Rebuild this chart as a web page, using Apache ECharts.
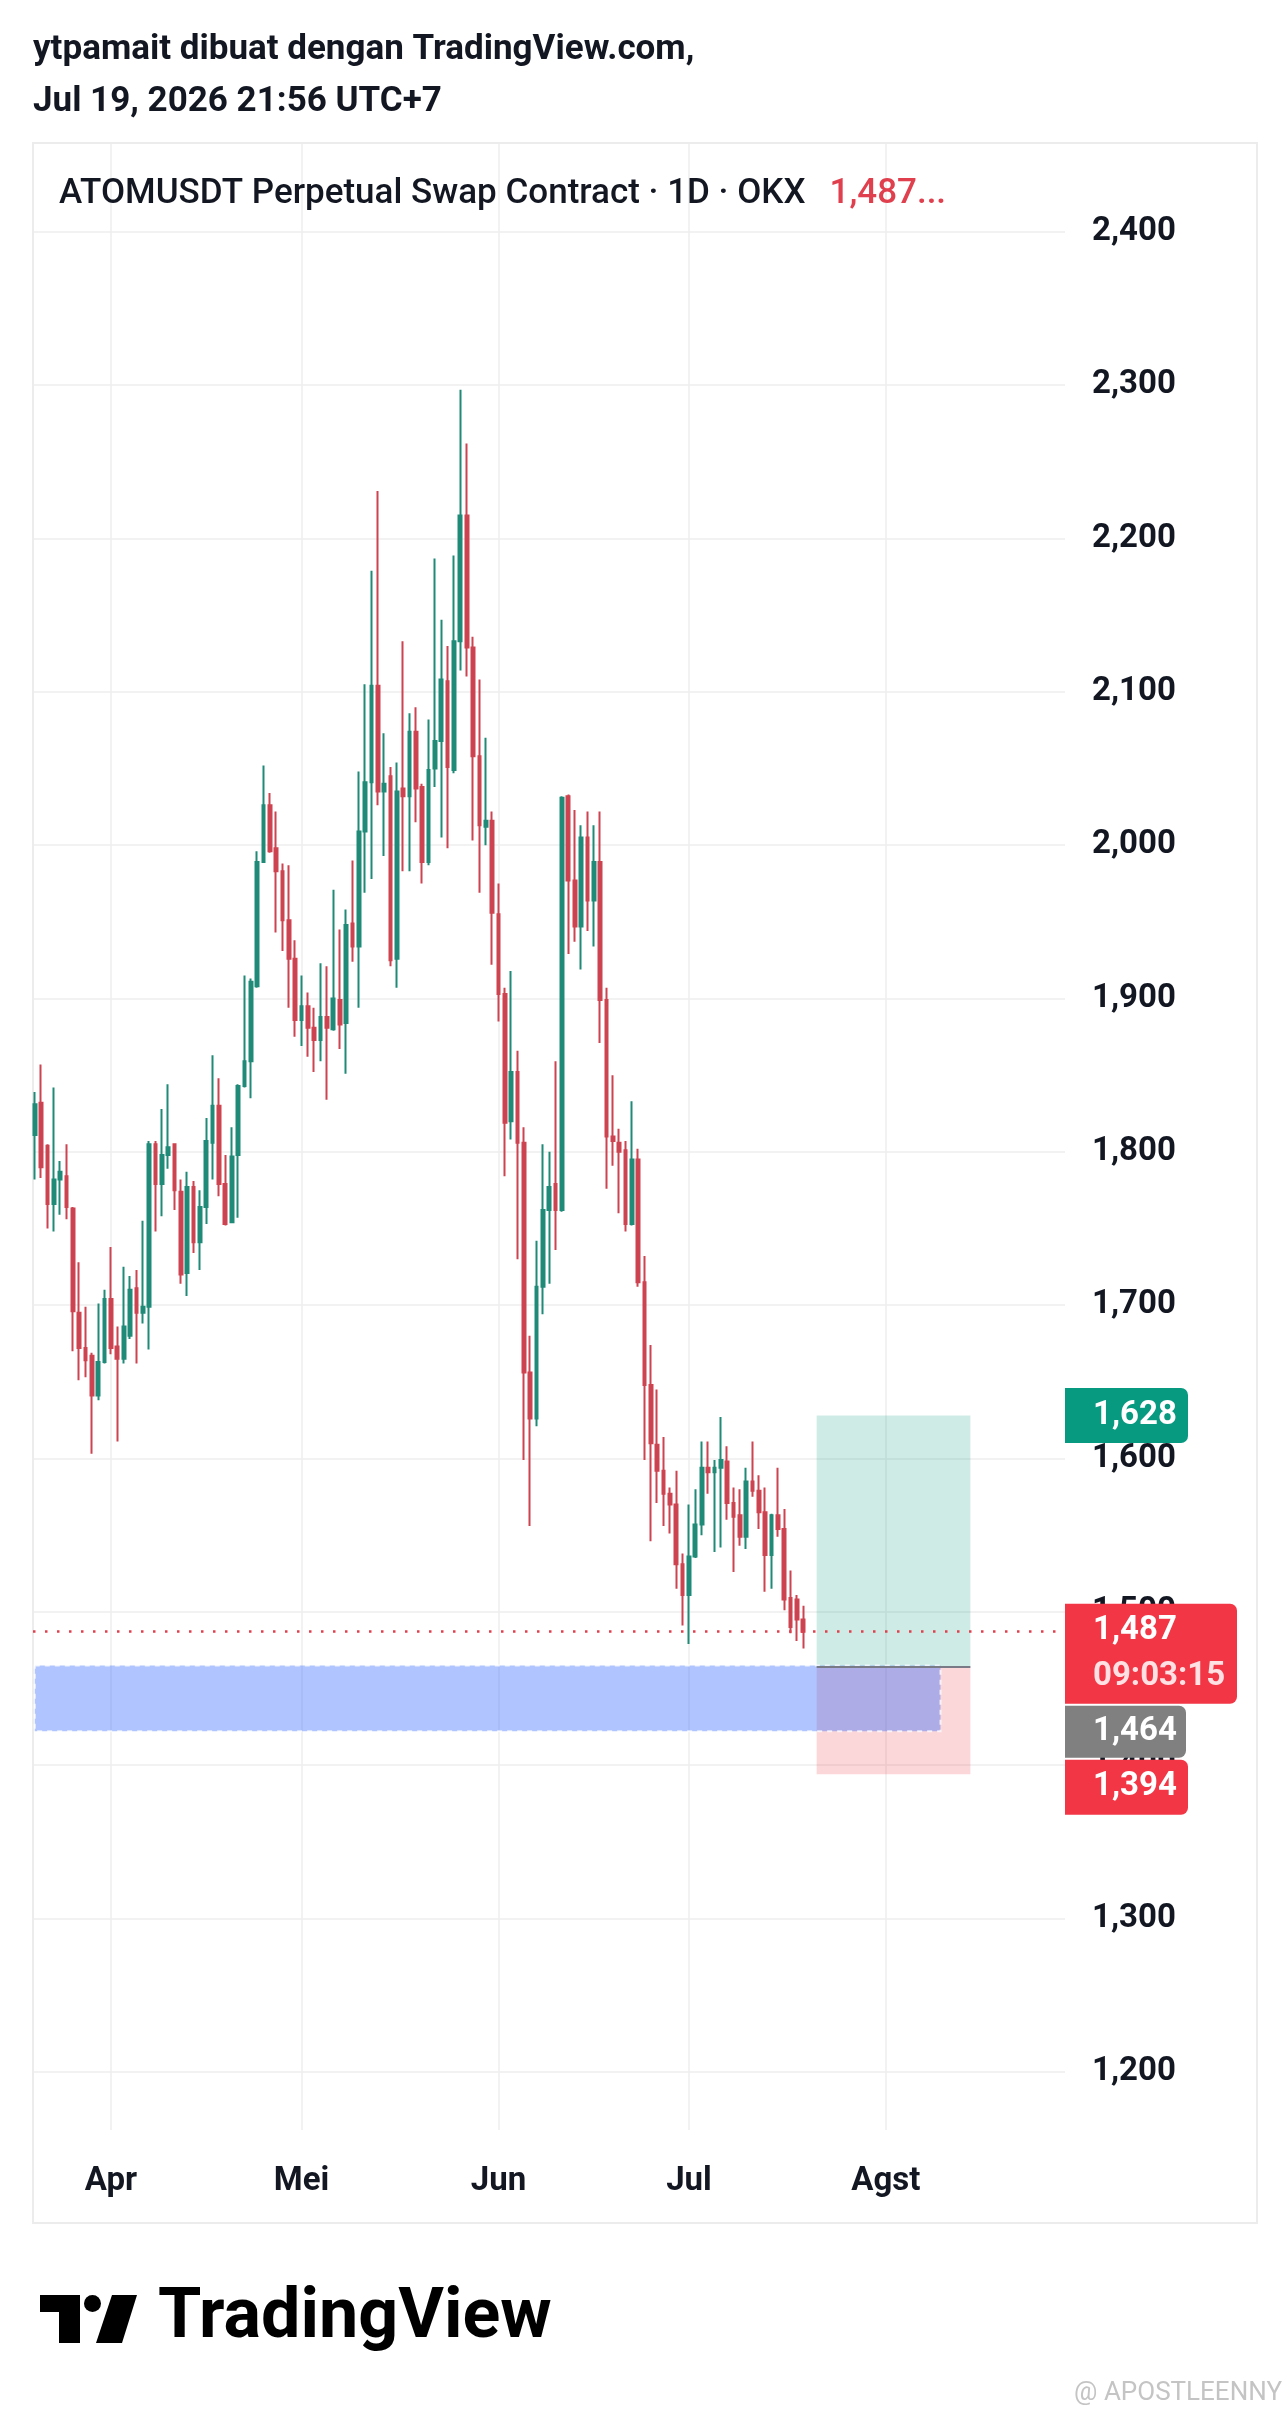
<!DOCTYPE html>
<html><head><meta charset="utf-8">
<script src="https://cdn.jsdelivr.net/npm/echarts@6/dist/echarts.min.js"></script>
<style>html,body{margin:0;padding:0;background:#fff;}#c{width:1284px;height:2418px;}</style>
</head><body><div id="c"></div>
<script>
// Daily candles, ATOMUSDT perp (OKX), 20 Mar .. 19 Jul (x = day index from 20 Mar)
const opens  = [1811,1832,1804,1766,1782,1784,1763,1695,1672,1667,1641,1663,1704,1673,1665,1680,1711,1695,1699,1805,1779,1798,1805,1774,1721,1777,1741,1764,1806,1830,1779,1754,1798,1843,1859,1908,1989,2026,1998,1983,1951,1926,1886,1895,1881,1873,1888,1880,1899,1884,1949,1934,2009,2041,2104,2035,2045,1926,2037,2032,2074,2038,1989,2050,2068,2107,2049,2133,2215,2129,2058,2012,2016,1955,1903,1820,1852,1806,1656,1626,1712,1762,1779,1762,2032,1977,1947,2005,1964,1989,1899,1810,1806,1801,1753,1795,1715,1648,1609,1592,1577,1570,1531,1511,1536,1557,1594,1591,1594,1598,1571,1563,1549,1585,1579,1565,1537,1563,1554,1509,1508,1495];
const closes = [1831,1790,1766,1782,1787,1764,1696,1672,1664,1641,1663,1704,1672,1665,1686,1710,1695,1699,1805,1779,1798,1803,1775,1720,1777,1741,1764,1807,1830,1779,1753,1797,1843,1859,1911,1989,2026,1996,1983,1951,1926,1886,1895,1881,1873,1888,1881,1900,1883,1948,1934,2009,2041,2104,2035,2040,1925,2035,2032,2074,2037,1989,2049,2068,2108,2051,2133,2215,2129,2058,2013,2016,1956,1903,1819,1852,1806,1656,1626,1712,1762,1777,1762,2031,1977,1947,2005,1964,1989,1899,1810,1807,1800,1753,1795,1715,1648,1610,1592,1577,1570,1531,1511,1536,1557,1594,1591,1594,1599,1571,1562,1549,1585,1579,1565,1537,1563,1554,1508,1490,1495,1487];
const lows   = [1782,1783,1750,1748,1759,1756,1670,1651,1653,1603,1638,1662,1668,1611,1662,1678,1662,1688,1671,1748,1758,1789,1762,1714,1706,1734,1723,1753,1782,1771,1752,1754,1757,1842,1835,1907,1989,1995,1943,1931,1894,1875,1869,1862,1852,1859,1834,1879,1867,1851,1924,1894,1969,1978,2026,1993,1921,1907,1983,1983,2015,1975,1987,2038,2005,1998,2047,2114,2110,2003,1969,2000,1922,1885,1784,1808,1730,1599,1556,1621,1694,1714,1736,1761,1929,1937,1919,1944,1934,1871,1776,1791,1760,1748,1752,1712,1599,1546,1571,1556,1551,1515,1491,1479,1535,1550,1577,1539,1542,1560,1526,1543,1541,1575,1554,1513,1515,1549,1501,1486,1481,1476];
const highs  = [1839,1857,1805,1842,1794,1805,1764,1728,1699,1669,1701,1710,1738,1686,1725,1719,1723,1755,1807,1807,1828,1844,1805,1782,1787,1781,1775,1822,1863,1848,1798,1816,1844,1915,1913,1996,2052,2034,2022,1988,1987,1938,1915,1904,1894,1923,1921,1971,1945,1958,1990,2048,2105,2179,2231,2073,2051,2054,2133,2086,2090,2040,2082,2187,2147,2130,2189,2297,2262,2136,2108,2070,2022,1975,1907,1918,1866,1816,1680,1742,1805,1800,1859,2032,2033,2023,2013,2022,2013,2022,1907,1850,1815,1807,1833,1802,1732,1674,1645,1614,1581,1592,1538,1570,1580,1611,1611,1599,1627,1608,1581,1580,1594,1611,1589,1581,1564,1594,1567,1527,1511,1504];

const monthTicks  = [12, 42, 73, 103, 134];           // day index of 1 Apr, 1 Mei, 1 Jun, 1 Jul, 1 Agst
const monthLabels = ['Apr', 'Mei', 'Jun', 'Jul', 'Agst'];
const priceTicks  = [1200,1300,1400,1500,1600,1700,1800,1900,2000,2100,2200,2300,2400];

const lastPrice = 1487;
const countdown = '09:03:15';
const position = { start: 123.1, end: 147.3, entry: 1464, target: 1628, stop: 1394 };
const zone = { end: 142.6, top: 1465, bottom: 1422 };

const UP = '#208A79', DOWN = '#CD4350';
const FONT = 'Roboto, "Noto Sans", sans-serif';
const fmt = v => String(v).replace(/\B(?=(\d{3})+(?!\d))/g, ',');

const chart = echarts.init(document.getElementById('c'), null, { width: 1284, height: 2418 });
const candleData = opens.map((o, i) => [i, o, closes[i], lows[i], highs[i]]);

chart.setOption({
  animation: false,
  backgroundColor: '#ffffff',
  grid: { left: 33, right: 219, top: 143, bottom: 288, containLabel: false },
  xAxis: {
    type: 'value', min: -0.28, max: 162.2,
    axisLine: { show: false },
    axisTick: { show: false, customValues: monthTicks },
    axisLabel: {
      customValues: monthTicks,
      formatter: v => monthLabels[monthTicks.indexOf(Math.round(v))] || '',
      color: '#131722', fontFamily: FONT, fontWeight: 'bold', fontSize: 33,
      margin: 52, verticalAlign: 'middle'
    },
    splitLine: { show: true, lineStyle: { color: '#EEEEEE', width: 1.5 } }
  },
  yAxis: {
    type: 'value', position: 'right', min: 1162, max: 2458, scale: true,
    axisLine: { show: false },
    axisTick: { show: false, customValues: priceTicks },
    axisLabel: {
      customValues: priceTicks,
      formatter: v => fmt(v),
      color: '#131722', fontFamily: FONT, fontWeight: 'bold', fontSize: 33,
      margin: 27, align: 'left'
    },
    splitLine: { show: true, lineStyle: { color: '#EEEEEE', width: 1.5 } }
  },
  series: [{
    type: 'candlestick',
    data: candleData,
    encode: { x: 0, y: [1, 2, 3, 4] },
    barWidth: 3.2,
    itemStyle: { color: UP, color0: DOWN, borderColor: UP, borderColor0: DOWN, borderWidth: 2 },
    markArea: {
      silent: true,
      data: [
        [{ xAxis: position.start, yAxis: position.target, itemStyle: { color: 'rgba(8,153,129,0.2)' } },
         { xAxis: position.end, yAxis: position.entry }],
        [{ xAxis: position.start, yAxis: position.entry, itemStyle: { color: 'rgba(242,54,69,0.2)' } },
         { xAxis: position.end, yAxis: position.stop }],
        [{ xAxis: 'min', yAxis: zone.top, itemStyle: { color: 'rgba(41,98,255,0.37)', borderColor: 'rgba(255,255,255,0.75)', borderWidth: 2, borderType: [5, 5] } },
         { xAxis: zone.end, yAxis: zone.bottom }]
      ]
    },
    markLine: {
      silent: true, symbol: 'none', label: { show: false },
      data: [
        { yAxis: lastPrice, lineStyle: { color: '#E0404E', width: 2.5, type: [2.5, 9.5] } },
        [{ coord: [position.start, position.entry], lineStyle: { color: '#787B86', width: 2, type: 'solid' } },
         { coord: [position.end, position.entry] }]
      ]
    }
  }]
});

// price tags on the right scale, stacked to avoid overlap
const py = p => chart.convertToPixel({ gridIndex: 0 }, [0, p])[1];
const tags = [
  { text: fmt(position.target), price: position.target, color: '#089981', w: 123, h: 55, off: 27.5 },
  { text: fmt(lastPrice), sub: countdown, price: lastPrice, color: '#F23645', w: 172, h: 100, off: 28 },
  { text: fmt(position.entry), price: position.entry, color: '#808080', w: 121, h: 52, off: 26 },
  { text: fmt(position.stop), price: position.stop, color: '#F23645', w: 123, h: 55, off: 27.5 }
];
const g = [];
let prevBottom = -1e9;
tags.forEach(t => {
  let top = py(t.price) - t.off;
  if (top < prevBottom + 2) top = prevBottom + 2;
  prevBottom = top + t.h;
  g.push({ type: 'rect', z: 100, shape: { x: 1065, y: top, width: t.w, height: t.h, r: [0, 7, 7, 0] }, style: { fill: t.color } });
  g.push({ type: 'text', z: 101, x: 1093, y: top + (t.sub ? 27 : t.h / 2), style: { text: t.text, fill: '#ffffff', font: 'bold 33px ' + FONT, align: 'left', verticalAlign: 'middle' } });
  if (t.sub) g.push({ type: 'text', z: 101, x: 1093, y: top + 73, style: { text: t.sub, fill: 'rgba(255,235,237,0.95)', font: 'bold 33px ' + FONT, align: 'left', verticalAlign: 'middle' } });
});

// frame, header, title, logo, watermark
g.push({ type: 'rect', z: 0, shape: { x: 33, y: 143, width: 1224, height: 2080 }, style: { fill: 'none', stroke: '#ECECEC', lineWidth: 2 } });
g.push({ type: 'text', x: 33, y: 50, style: { text: 'ytpamait dibuat dengan TradingView.com,', fill: '#131722', font: 'bold 35px ' + FONT, verticalAlign: 'middle' } });
g.push({ type: 'text', x: 33, y: 102, style: { text: 'Jul 19, 2026 21:56 UTC+7', fill: '#131722', font: 'bold 35px ' + FONT, verticalAlign: 'middle' } });
g.push({ type: 'text', z: 50, x: 59, y: 194, style: {
  text: '{a|ATOMUSDT Perpetual Swap Contract · 1D · OKX}{s|}{b|' + fmt(lastPrice) + '...}',
  verticalAlign: 'middle',
  rich: {
    a: { fill: '#131722', font: '500 35px ' + FONT },
    s: { width: 24, font: '35px ' + FONT },
    b: { fill: '#E0404E', font: '500 35px ' + FONT }
  }
} });
// TradingView logo
g.push({ type: 'polygon', shape: { points: [[40, 2295], [80, 2295], [80, 2343], [59, 2343], [59, 2312], [40, 2312]] }, style: { fill: '#000' } });
g.push({ type: 'circle', shape: { cx: 92.5, cy: 2303.5, r: 8.5 }, style: { fill: '#000' } });
g.push({ type: 'polygon', shape: { points: [[112, 2295], [137, 2295], [122, 2343], [96, 2343]] }, style: { fill: '#000' } });
g.push({ type: 'text', x: 158, y: 2319, style: { text: 'TradingView', fill: '#000', font: 'bold 70px ' + FONT, verticalAlign: 'middle' } });
g.push({ type: 'text', x: 1282, y: 2393, style: { text: '@ APOSTLEENNY', fill: '#C4C4C4', font: '26px ' + FONT, align: 'right', verticalAlign: 'middle' } });

chart.setOption({ graphic: g });
</script></body></html>
